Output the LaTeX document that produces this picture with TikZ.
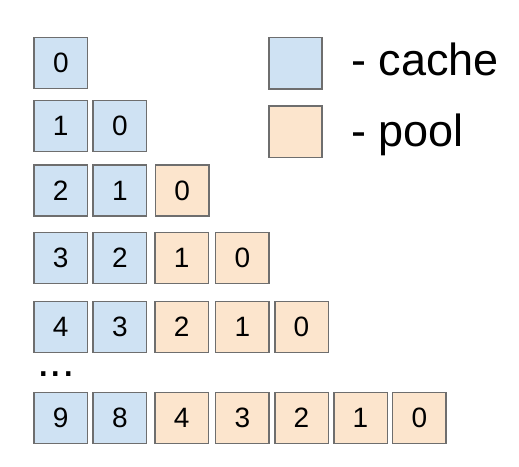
\documentclass[tikz,border=0pt]{standalone}
\usepackage{fontspec}
\setmainfont{Liberation Sans}
\definecolor{cachefill}{HTML}{CFE2F3}
\definecolor{poolfill}{HTML}{FCE5CD}
\definecolor{boxline}{HTML}{6E6E6E}
\begin{document}
\begin{tikzpicture}[x=1pt,y=-1pt,
  cell/.style={rectangle,draw=boxline,line width=1.5pt,minimum width=53.5pt,minimum height=51pt,inner sep=0pt,anchor=north west,font=\fontsize{28}{28}\selectfont},
  cachebox/.style={cell,fill=cachefill},
  poolbox/.style={cell,fill=poolfill},
  legendbox/.style={rectangle,draw=boxline,line width=1.5pt,minimum width=53pt,minimum height=51.5pt,inner sep=0pt,anchor=north west},
  legendtext/.style={anchor=base west,inner sep=0pt,font=\fontsize{45}{45}\selectfont},
  dotstext/.style={anchor=base west,inner sep=0pt,font=\fontsize{45}{45}\selectfont}]
\useasboundingbox (0,0) rectangle (519,466);
% row 1
\node[cachebox] (a1) at (33.4,36.5) {0};
% row 2
\node[cachebox] (b1) at (33.2,99.8) {1};
\node[cachebox] (b2) at (92.4,99.8) {0};
% row 3
\node[cachebox] (c1) at (33.2,164.2) {2};
\node[cachebox] (c2) at (92.4,164.2) {1};
\node[poolbox]  (c3) at (154.6,164.2) {0};
% row 4
\node[cachebox] (d1) at (33.2,231.8) {3};
\node[cachebox] (d2) at (92.4,231.8) {2};
\node[poolbox]  (d3) at (154.2,231.8) {1};
\node[poolbox]  (d4) at (214.8,231.8) {0};
% row 5
\node[cachebox] (e1) at (33.2,300.8) {4};
\node[cachebox] (e2) at (92.4,300.8) {3};
\node[poolbox]  (e3) at (154.2,300.8) {2};
\node[poolbox]  (e4) at (214.8,300.8) {1};
\node[poolbox]  (e5) at (274.0,300.8) {0};
% dots
\node[dotstext] (dots) at (37,376.7) {...};
% row 7
\node[cachebox] (f1) at (33.2,391.5) {9};
\node[cachebox] (f2) at (92.4,391.5) {8};
\node[poolbox]  (f3) at (154.2,391.5) {4};
\node[poolbox]  (f4) at (214.8,391.5) {3};
\node[poolbox]  (f5) at (274.0,391.5) {2};
\node[poolbox]  (f6) at (333.0,391.5) {1};
\node[poolbox]  (f7) at (391.8,391.5) {0};
% legend
\node[legendbox,fill=cachefill] (lc) at (268.0,36.5) {};
\node[legendbox,fill=poolfill]  (lp) at (268.0,105.0) {};
\node[legendtext] (tc) at (351,75) {- cache};
\node[legendtext] (tp) at (351,146) {- pool};
\end{tikzpicture}
\end{document}
